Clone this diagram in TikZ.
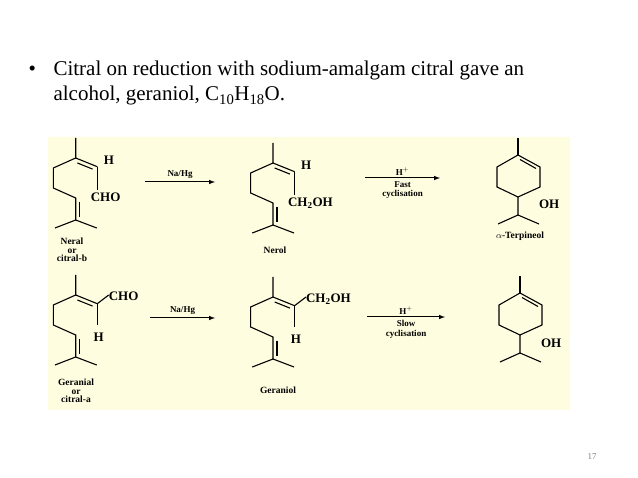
\documentclass[tikz,border=0pt]{standalone}
\usepackage{fontspec}
\setmainfont{Liberation Serif}
\newfontfamily\titlefont{Liberation Serif}
\begin{document}
\begin{tikzpicture}[x=1pt,y=-1pt,line width=1.1pt,
  grp/.style={font=\titlefont\fontsize{13}{13}\selectfont\bfseries,inner sep=0.5pt},
  lbl/.style={font=\titlefont\fontsize{9.5}{8.5}\selectfont\bfseries,inner sep=0pt,align=center},
  rlab/.style={font=\titlefont\fontsize{9}{9.5}\selectfont\bfseries,inner sep=0pt,align=center},
  ttl/.style={font=\titlefont\fontsize{21}{24}\selectfont,inner sep=0,anchor=base west},
  rarr/.style={-latex,line width=1pt}]
\useasboundingbox (0,0) rectangle (638,478);
\fill[white] (0,0) rectangle (638,478);
\fill[yellow!12!white] (48,137) rectangle (570,410);
% title
\node[ttl] (b) at (28,76) {\textbullet};
\node[ttl] (t1) at (53,76) {Citral on reduction with sodium-amalgam citral gave an};
\node[ttl] (t2) at (53,101) {alcohol, geraniol, C\textsubscript{10}H\textsubscript{18}O.};
\node[font=\titlefont\fontsize{9}{9}\selectfont,text=gray] (pg) at (592,457) {17};
\newcommand{\chain}{%
 \draw (0,-20)--(0,0)--(21.6,8.7);
 \draw (1.7,5)--(16.9,11.1);
 \draw (0,0)--(-22.4,10)--(-22.4,30)--(0,40)--(0,62)--(-20.7,70);
 \draw (0,62)--(21,70);
 \draw (4,44)--(4,59);}
% Neral
\begin{scope}[shift={(75.7,158)}]
 \chain
 \draw (21.6,8.7)--(21.6,32);
 \node[grp,anchor=west] (h1) at (27,2) {H};
 \node[grp,anchor=west] (cho1) at (14,39) {CHO};
\end{scope}
\node[lbl] (n1) at (72,250) {Neral\\or\\citral-b};
% Nerol
\begin{scope}[shift={(273,163)}]
 \chain
 \draw (21.6,8.7)--(21.6,32);
 \node[grp,anchor=west] (h2) at (27,2) {H};
 \node[grp,anchor=west] (ch2) at (14,40) {CH\textsubscript{2}OH};
\end{scope}
\node[lbl] (n2) at (275,250) {Nerol};
% Geranial
\begin{scope}[shift={(75.7,295)}]
 \chain
 \draw (21.6,8.7)--(21.6,30);
 \draw (21.6,8.7)--(33,0);
 \node[grp,anchor=west] (cho3) at (32,1) {CHO};
 \node[grp] (h3) at (23,42) {H};
\end{scope}
\node[lbl] (n3) at (76,391) {Geranial\\or\\citral-a};
% Geraniol
\begin{scope}[shift={(273,297)}]
 \chain
 \draw (21.6,8.7)--(21.6,30);
 \draw (21.6,8.7)--(33,0);
 \node[grp,anchor=west] (ch4) at (32,2) {CH\textsubscript{2}OH};
 \node[grp] (h4) at (23,42) {H};
\end{scope}
\node[lbl] (n4) at (278,390) {Geraniol};
\newcommand{\ring}{%
 \draw (0,-17)--(0,0);
 \draw (0,0)--(22,12)--(22,32)--(0,42)--(-21,32)--(-21,12)--cycle;
 \draw (2,4.5)--(18,13.5);
 \draw (0,42)--(0,60)--(-20,69);
 \draw (0,60)--(21,69);}
\begin{scope}[shift={(518,155)}]
 \ring
 \node[grp,anchor=west] (oh1) at (20,49) {OH};
\end{scope}
\node[lbl] (n5) at (520,236) {$\alpha$-Terpineol};
\begin{scope}[shift={(520,293)}]
 \ring
 \node[grp,anchor=west] (oh2) at (20,50) {OH};
\end{scope}
\coordinate (a1s) at (145,182); \coordinate (a1e) at (215,182);
\draw[rarr] (a1s)--(a1e) node[rlab,midway,above=3pt] (l1) {Na/Hg};
\coordinate (a2s) at (365,178); \coordinate (a2e) at (440,178);
\draw[rarr] (a2s)--(a2e) node[rlab,midway,above=2pt] (l2) {H$^+$}
  node[rlab,midway,below=3pt] (l3) {Fast\\cyclisation};
\coordinate (a3s) at (150,318); \coordinate (a3e) at (215,318);
\draw[rarr] (a3s)--(a3e) node[rlab,midway,above=3pt] (l4) {Na/Hg};
\coordinate (a4s) at (367,317); \coordinate (a4e) at (445,317);
\draw[rarr] (a4s)--(a4e) node[rlab,midway,above=2pt] (l5) {H$^+$}
  node[rlab,midway,below=3pt] (l6) {Slow\\cyclisation};
\end{tikzpicture}
\end{document}
